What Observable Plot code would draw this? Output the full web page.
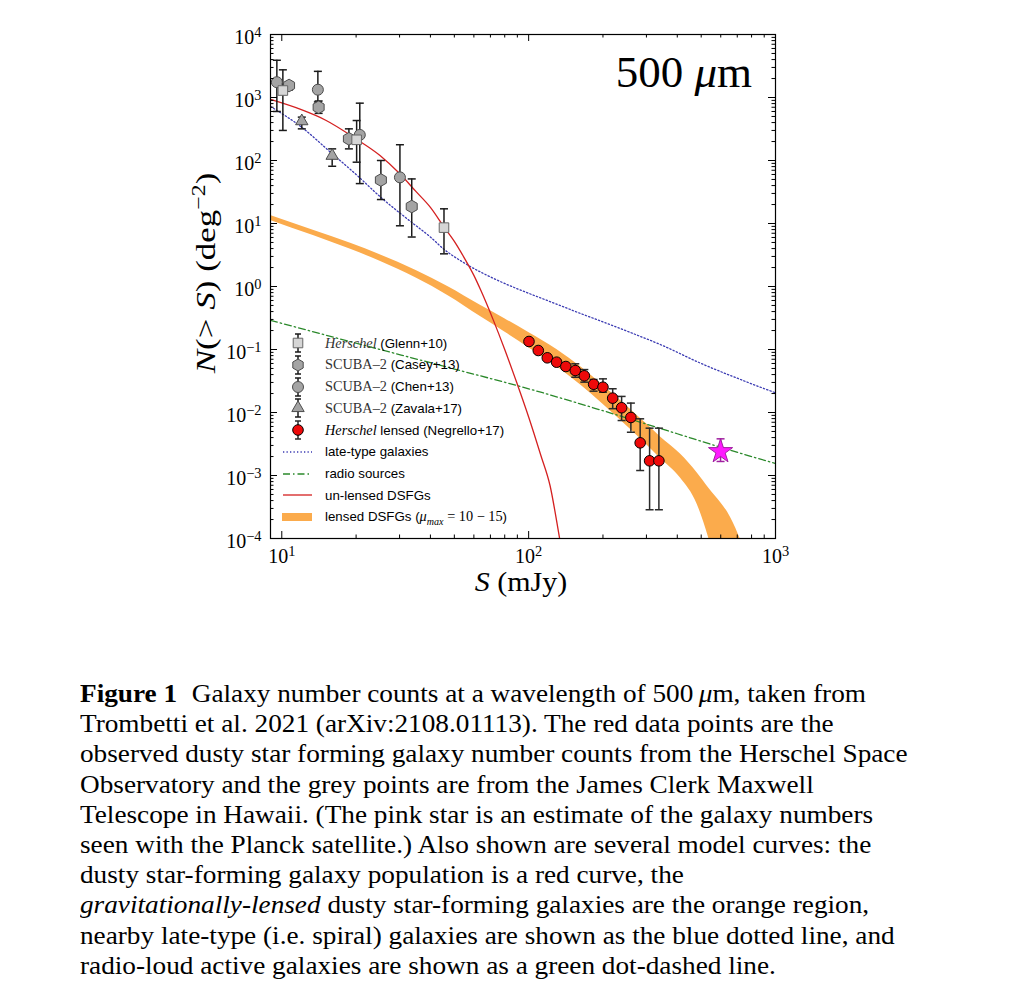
<!DOCTYPE html>
<html>
<head>
<meta charset="utf-8">
<script src="https://cdn.jsdelivr.net/npm/d3@7"></script>
<script src="https://cdn.jsdelivr.net/npm/@observablehq/plot@0.6"></script>
<style>
  html, body { margin: 0; padding: 0; background: #fff; }
  body { width: 1024px; height: 1007px; position: relative; overflow: hidden; font-family: "Liberation Serif", serif; color: #000; }
  #chart { position: absolute; left: 0; top: 0; }
  .ov { position: absolute; white-space: nowrap; line-height: 1; }
  #title { font-size: 45px; right: 272px; top: 50px; }
  #ylabel { font-size: 28px; left: 206px; top: 273px; transform: translate(-50%, -50%) rotate(-90deg) scaleX(1.25); }
  #xlabel { font-size: 28px; left: 521px; top: 568px; transform: translateX(-50%) scaleX(1.07); }
  #ylabel sup { font-size: 0.68em; vertical-align: 0; position: relative; top: -0.5em; }
  .lrow { position: absolute; left: 278px; height: 22px; display: flex; align-items: center; }
  .lrow svg { flex: none; }
  .lrow .lt { margin-left: 9px; font-family: "Liberation Sans", sans-serif; font-size: 13.3px; white-space: nowrap; }
  .cm { font-family: "Liberation Serif", serif; font-size: 14.3px; color: #333; }
  #caption { position: absolute; left: 80px; top: 679px; font-size: 26px; line-height: 30.2px; transform-origin: 0 0; }
  #caption .ln { white-space: nowrap; }
  #caption .ln span.w { display: inline-block; }
  #caption b { font-weight: bold; }
</style>
</head>
<body>
<div id="chart"></div>
<div id="title" class="ov">500 <i>μ</i>m</div>
<div id="ylabel" class="ov"><i>N</i>(&gt; <i>S</i>) (deg<sup>−2</sup>)</div>
<div id="xlabel" class="ov"><i>S</i> (mJy)</div>
<div id="legend"></div>
<div id="caption"></div>
<script>
// ---------------- DATA ----------------
// Herschel (Glenn+10) - squares
const glennS  = [10.1, 20.1, 45.4];
const glennN  = [1290, 213, 8.6];
const glennLo = [300, 94, 3.3];
const glennHi = [2750, 431, 17.1];
// SCUBA-2 (Casey+13) - hexagons
const caseyS  = [10.7, 14.1, 18.7, 25.2, 33.6];
const caseyN  = [1550, 700, 221, 49, 18.6];
const caseyLo = [1320, 560, 153, 24, 6.1];
const caseyHi = [1750, 880, 318, 100, 51];
// SCUBA-2 (Chen+13) - circles
const chenS  = [9.55, 14.0, 20.7, 30.1];
const chenN  = [1750, 1330, 255, 54];
const chenLo = [600, 850, 43, 9.2];
const chenHi = [3900, 2600, 813, 178];
// SCUBA-2 (Zavala+17) - triangles
const zavalaS  = [12.05, 16.0];
const zavalaN  = [421, 119];
const zavalaLo = [318, 81];
const zavalaHi = [488, 153];
// Herschel lensed (Negrello+17) - red circles
const negrelloS  = [100.3, 109.4, 119, 129.8, 141.5, 154.5, 168.1, 183.3, 200, 219, 238, 259.5, 283, 309, 337];
const negrelloN  = [0.134, 0.0964, 0.0738, 0.0629, 0.0537, 0.0464, 0.0382, 0.0281, 0.0252, 0.0169, 0.0119, 0.00834, 0.0033, 0.00171, 0.00171];
const negrelloLo = [0.126, 0.090, 0.069, 0.058, 0.048, 0.0363, 0.0303, 0.0218, 0.021, 0.0115, 0.00746, 0.00486, 0.0012, 0.000286, 0.000286];
const negrelloHi = [0.142, 0.103, 0.079, 0.068, 0.059, 0.0593, 0.048, 0.0334, 0.0342, 0.0238, 0.018, 0.0141, 0.00794, 0.00564, 0.00564];
// Planck estimate (star)
const planckS = [599];
const planckN = [0.0024];
const planckLo = [0.00167];
const planckHi = [0.00382];

// model: late-type galaxies (blue dotted)
const lateS = [9, 12, 16, 20, 25.2, 33, 40, 45.4, 55, 75, 100, 119, 150, 235, 350, 500, 700, 1000];
const lateN = [720, 340, 128, 60, 26, 11, 6.1, 3.9, 2.35, 1.25, 0.78, 0.6, 0.42, 0.215, 0.115, 0.06, 0.035, 0.0205];
// model: radio sources (green dot-dash)
const radioS = [9, 20, 50, 112, 195, 400, 600, 1000];
const radioN = [0.29, 0.126, 0.049, 0.021, 0.011, 0.0046, 0.0028, 0.00155];
// model: un-lensed DSFGs (red)
const dsfgS = [9, 12, 15, 20, 25, 30, 35, 40, 45.4, 50, 54.7, 60, 64, 72, 80, 90, 100, 112, 122, 133.5, 145];
const dsfgN = [930, 640, 440, 220, 120, 62, 32, 18, 8.8, 5.2, 2.9, 1.5, 0.87, 0.29, 0.1, 0.028, 0.0085, 0.0021, 0.0007, 0.0001, 0.000015];
// model: lensed DSFGs band (orange), mu_max = 10 - 15
const lensS  = [9, 13.5, 19, 25, 35, 47, 64, 80, 100, 130, 162, 200, 259, 300, 342, 412, 482, 537, 600, 640, 710, 760];
const lensHi = [13.4, 7.76, 4.84, 3.2, 1.80, 1.0, 0.50, 0.309, 0.186, 0.100, 0.0537, 0.0269, 0.0112, 0.0066, 0.0041, 0.00219, 0.0011, 0.00063, 0.00037, 0.00026, 0.000112, 0.000056];
const lensLo = [11.2, 6.38, 3.89, 2.52, 1.36, 0.72, 0.331, 0.19, 0.107, 0.0537, 0.0275, 0.0135, 0.00537, 0.0031, 0.00186, 0.00091, 0.000347, 0.0001, 0.0000186, 0.0000042, 0.00000035, 0.000000056];

// axis ticks
const xMajor = [10, 100, 1000];
const xMinor = [20, 30, 40, 50, 60, 70, 80, 90, 200, 300, 400, 500, 600, 700, 800, 900];
const yMajor = [1e-4, 1e-3, 1e-2, 1e-1, 1, 10, 100, 1000, 10000];
const yMinor = [];
for (const d of yMajor.slice(0, -1)) for (let k = 2; k <= 9; k++) yMinor.push(d * k);

// legend labels
const legendLabels = [
  '<i class="cm">Herschel</i> (Glenn+10)',
  '<span class="cm">SCUBA–2</span> (Casey+13)',
  '<span class="cm">SCUBA–2</span> (Chen+13)',
  '<span class="cm">SCUBA–2</span> (Zavala+17)',
  '<i class="cm" style="color:#000">Herschel</i> lensed (Negrello+17)',
  'late-type galaxies',
  'radio sources',
  'un-lensed DSFGs',
  'lensed DSFGs (<i class="cm" style="color:#000">μ<sub style="font-size:0.7em">max</sub></i> <span class="cm" style="color:#000">= 10 − 15</span>)'
];

// ---------------- STYLES ----------------
const C = {
  greyFill: "#a4a4a4", greyStroke: "#4d4d4d",
  sqFill: "#d6d6d6", sqStroke: "#666",
  red: "#ee0a0a", redCurve: "#d42020",
  blue: "#3b3bb3", green: "#2b892b", orange: "#fbab4c",
  magenta: "#ff1aff", magStroke: "#a020a0"
};

const zip = (S, N, lo, hi) => S.map((s, i) => ({S: s, N: N[i], lo: lo ? lo[i] : null, hi: hi ? hi[i] : null}));
const glenn = zip(glennS, glennN, glennLo, glennHi);
const casey = zip(caseyS, caseyN, caseyLo, caseyHi);
const chen = zip(chenS, chenN, chenLo, chenHi);
const zavala = zip(zavalaS, zavalaN, zavalaLo, zavalaHi);
const negrello = zip(negrelloS, negrelloN, negrelloLo, negrelloHi);
const planck = zip(planckS, planckN, planckLo, planckHi);
const grey = [...glenn, ...casey, ...chen, ...zavala];
const late = zip(lateS, lateN);
const radio = zip(radioS, radioN);
const dsfg = zip(dsfgS, dsfgN);
const lens = lensS.map((s, i) => ({S: s, hi: lensHi[i], lo: lensLo[i]}));

const capSymbol = { draw(ctx, size) { const w = Math.sqrt(size / Math.PI); ctx.moveTo(-w, 0); ctx.lineTo(w, 0); } };

const supMap = {"0":"⁰","1":"¹","2":"²","3":"³","4":"⁴","5":"⁵","6":"⁶","7":"⁷","8":"⁸","9":"⁹","-":"⁻"};
const fmt = d => "10" + String(Math.round(Math.log10(d))).split("").map(c => supMap[c]).join("");

const W = 800, H = 600, mL = 270, mR = 25, mT = 34, mB = 62;
const innerW = W - mL - mR, innerH = H - mT - mB;
const major = 7, minor = 3.5;

function errMarks(data, color, capR) {
  return [
    Plot.ruleX(data, {x: "S", y1: "lo", y2: "hi", stroke: color, strokeWidth: 1.5}),
    Plot.dot(data, {x: "S", y: "lo", symbol: capSymbol, r: capR, stroke: color, strokeWidth: 1.5, fill: "none"}),
    Plot.dot(data, {x: "S", y: "hi", symbol: capSymbol, r: capR, stroke: color, strokeWidth: 1.5, fill: "none"})
  ];
}

const chart = Plot.plot({
  width: W, height: H,
  marginLeft: mL, marginRight: mR, marginTop: mT, marginBottom: mB,
  x: {type: "log", domain: [9, 1000]},
  y: {type: "log", domain: [1e-4, 1e4]},
  style: {fontFamily: '"Liberation Serif", serif', fontSize: "20px", color: "#000", background: "transparent", overflow: "visible"},
  marks: [
    Plot.areaY(lens, {x: "S", y1: "lo", y2: "hi", fill: C.orange, curve: "monotone-x", clip: true}),
    Plot.line(radio, {x: "S", y: "N", stroke: C.green, strokeWidth: 1.3, strokeDasharray: "7,3,1.5,3", curve: "monotone-x", clip: true}),
    Plot.line(late, {x: "S", y: "N", stroke: C.blue, strokeWidth: 1.3, strokeDasharray: "1.3,2.2", curve: "monotone-x", clip: true}),
    Plot.line(dsfg, {x: "S", y: "N", stroke: C.redCurve, strokeWidth: 1.3, curve: "monotone-x", clip: true}),
    ...errMarks(grey, "#1a1a1a", 4),
    ...errMarks(negrello, "#2a2a2a", 4),
    ...errMarks(planck, C.magStroke, 4),
    Plot.dot(chen, {x: "S", y: "N", symbol: "circle", r: 5.5, fill: C.greyFill, stroke: C.greyStroke, strokeWidth: 1}),
    Plot.dot(casey, {x: "S", y: "N", symbol: "hexagon", r: 5.5, fill: C.greyFill, stroke: C.greyStroke, strokeWidth: 1}),
    Plot.dot(zavala, {x: "S", y: "N", symbol: "triangle", r: 4.6, fill: C.greyFill, stroke: C.greyStroke, strokeWidth: 1}),
    Plot.dot(glenn, {x: "S", y: "N", symbol: "square", r: 5.4, fill: C.sqFill, stroke: C.sqStroke, strokeWidth: 1}),
    Plot.dot(negrello, {x: "S", y: "N", symbol: "circle", r: 5.3, fill: C.red, stroke: "#000", strokeWidth: 1}),
    Plot.dot(planck, {x: "S", y: "N", symbol: "star", r: 7.6, fill: C.magenta, stroke: C.magStroke, strokeWidth: 1}),
    // inward ticks, all four sides
    Plot.ruleX(xMajor, {x: d => d, insetTop: innerH - major, stroke: "#000"}),
    Plot.ruleX(xMajor, {x: d => d, insetBottom: innerH - major, stroke: "#000"}),
    Plot.ruleX(xMinor, {x: d => d, insetTop: innerH - minor, stroke: "#000"}),
    Plot.ruleX(xMinor, {x: d => d, insetBottom: innerH - minor, stroke: "#000"}),
    Plot.ruleY(yMajor, {y: d => d, insetRight: innerW - major, stroke: "#000"}),
    Plot.ruleY(yMajor, {y: d => d, insetLeft: innerW - major, stroke: "#000"}),
    Plot.ruleY(yMinor, {y: d => d, insetRight: innerW - minor, stroke: "#000"}),
    Plot.ruleY(yMinor, {y: d => d, insetLeft: innerW - minor, stroke: "#000"}),
    Plot.frame({stroke: "#000", strokeWidth: 1.2}),
    Plot.axisX(xMajor, {anchor: "bottom", tickSize: 0, tickPadding: 10, tickFormat: fmt, label: null}),
    Plot.axisY(yMajor, {anchor: "left", tickSize: 0, tickPadding: 9, tickFormat: fmt, label: null, dy: 3})
  ]
});
document.getElementById("chart").appendChild(chart);

// convert unicode superscripts to real superscript tspans
const back = Object.fromEntries(Object.entries(supMap).map(([k, v]) => [v, k === "-" ? "−" : k]));
chart.querySelectorAll('g[aria-label$="tick label"] text').forEach(t => {
  const s = t.textContent;
  if (!s.startsWith("10")) return;
  const exp = s.slice(2).split("").map(c => back[c] ?? c).join("");
  t.textContent = "10";
  const ts = document.createElementNS("http://www.w3.org/2000/svg", "tspan");
  ts.setAttribute("dy", "-0.5em");
  ts.setAttribute("font-size", "0.72em");
  ts.textContent = exp;
  t.appendChild(ts);
});

// ---------------- LEGEND ----------------
const legendItems = [
  {kind: "marker", sym: d3.symbolSquare, size: Math.PI * 5.4 * 5.4, fill: C.sqFill, stroke: C.sqStroke, bar: "#1a1a1a"},
  {kind: "marker", sym: "hex", fill: C.greyFill, stroke: C.greyStroke, bar: "#1a1a1a"},
  {kind: "marker", sym: d3.symbolCircle, size: Math.PI * 5.5 * 5.5, fill: C.greyFill, stroke: C.greyStroke, bar: "#1a1a1a"},
  {kind: "marker", sym: d3.symbolTriangle, size: Math.PI * 4.6 * 4.6, fill: C.greyFill, stroke: C.greyStroke, bar: "#1a1a1a"},
  {kind: "marker", sym: d3.symbolCircle, size: Math.PI * 5.3 * 5.3, fill: C.red, stroke: "#000", bar: "#2a2a2a"},
  {kind: "line", stroke: C.blue, dash: "1.3,2.2"},
  {kind: "line", stroke: C.green, dash: "7,3,1.5,3"},
  {kind: "line", stroke: C.redCurve, dash: null},
  {kind: "patch", fill: C.orange}
];
const legend = document.getElementById("legend");
const hexPath = r => { const p = []; for (let i = 0; i < 6; i++) { const a = Math.PI / 3 * i - Math.PI / 2; p.push([r * Math.cos(a), r * Math.sin(a)]); } return "M" + p.map(q => q.join(",")).join("L") + "Z"; };
legendItems.forEach((it, i) => {
  const row = document.createElement("div");
  row.className = "lrow";
  row.style.top = (343 + i * 21.75 - 11) + "px";
  const ns = "http://www.w3.org/2000/svg";
  const svg = document.createElementNS(ns, "svg");
  svg.setAttribute("width", 38); svg.setAttribute("height", 22);
  const g = document.createElementNS(ns, "g");
  g.setAttribute("transform", "translate(20,11)");
  svg.appendChild(g);
  const add = (tag, attrs) => { const e = document.createElementNS(ns, tag); for (const k in attrs) e.setAttribute(k, attrs[k]); g.appendChild(e); return e; };
  if (it.kind === "marker") {
    add("line", {x1: 0, x2: 0, y1: -9, y2: 9, stroke: it.bar, "stroke-width": 1.5});
    add("line", {x1: -3, x2: 3, y1: -9, y2: -9, stroke: it.bar, "stroke-width": 1.5});
    add("line", {x1: -3, x2: 3, y1: 9, y2: 9, stroke: it.bar, "stroke-width": 1.5});
    const d = it.sym === "hex" ? hexPath(6) : d3.symbol(it.sym, it.size)();
    add("path", {d, fill: it.fill, stroke: it.stroke, "stroke-width": 1});
  } else if (it.kind === "line") {
    const a = {x1: -15, x2: 14, y1: 0, y2: 0, stroke: it.stroke, "stroke-width": 1.3};
    if (it.dash) a["stroke-dasharray"] = it.dash;
    add("line", a);
  } else {
    add("rect", {x: -16, y: -4, width: 30, height: 8, fill: it.fill});
  }
  row.appendChild(svg);
  const t = document.createElement("span");
  t.className = "lt";
  t.innerHTML = legendLabels[i];
  row.appendChild(t);
  legend.appendChild(row);
});

// ---------------- CAPTION ----------------
const captionLines = [
  '<b>Figure 1</b><span style="display:inline-block;width:14px"></span>Galaxy number counts at a wavelength of 500&#8201;<i>μ</i>m, taken from',
  'Trombetti et al. 2021 (arXiv:2108.01113). The red data points are the',
  'observed dusty star forming galaxy number counts from the Herschel Space',
  'Observatory and the grey points are from the James Clerk Maxwell',
  'Telescope in Hawaii. (The pink star is an estimate of the galaxy numbers',
  'seen with the Planck satellite.) Also shown are several model curves: the',
  'dusty star-forming galaxy population is a red curve, the',
  '<i>gravitationally-lensed</i> dusty star-forming galaxies are the orange region,',
  'nearby late-type (i.e. spiral) galaxies are shown as the blue dotted line, and',
  'radio-loud active galaxies are shown as a green dot-dashed line.'
];
const cap = document.getElementById("caption");
captionLines.forEach(l => {
  const d = document.createElement("div");
  d.className = "ln";
  d.innerHTML = '<span class="w">' + l + '</span>';
  cap.appendChild(d);
});
const w0 = cap.querySelector(".w").getBoundingClientRect().width;
cap.style.transform = `scaleX(${(866 - 80) / w0})`;
</script>
</body>
</html>
